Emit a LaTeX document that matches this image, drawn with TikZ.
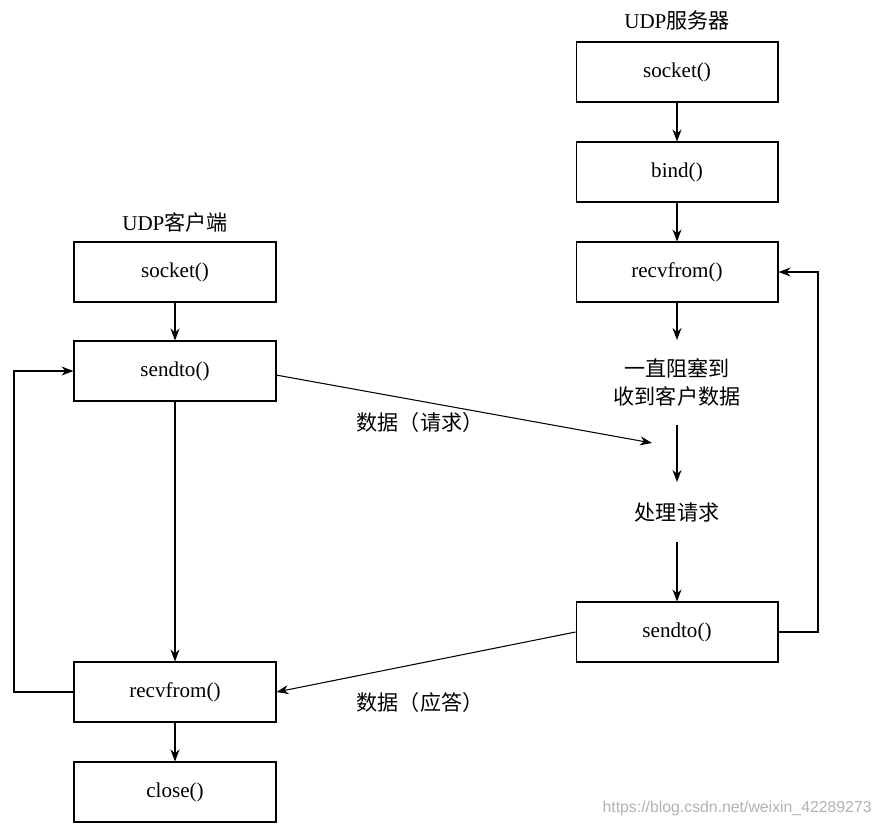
\documentclass[tikz,border=0pt]{standalone}
\usepackage{fontspec}
\setmainfont{Liberation Serif}
\newfontfamily\cjk{Noto Sans CJK SC}
\newfontfamily\wmfont{Liberation Sans}
\usetikzlibrary{arrows.meta}
\begin{document}
\begin{tikzpicture}[x=0.02cm, y=-0.02cm, >={Stealth[length=2.4mm,width=1.8mm]},
    box/.style={draw, semithick, minimum width=4.04cm, minimum height=1.2cm, font=\large},
    txt/.style={font=\large\cjk, align=center},
    every path/.append style={semithick}]
  \useasboundingbox (0,0) rectangle (882,826);

  % server side
  \node[font=\large] (st) at (677,20) {UDP{\cjk 服务器}};
  \node[box] (ssock) at (677,72) {socket()};
  \node[box] (sbind) at (677,172) {bind()};
  \node[box] (srecv) at (677,272) {recvfrom()};
  \node[txt, inner sep=0, text depth=0pt] (wait) at (677,382) {一直阻塞到\\[2pt]收到客户数据};
  \node[txt] (proc) at (677,512) {处理请求};
  \node[box] (ssend) at (677,632) {sendto()};

  % client side
  \node[font=\large] (ct) at (175,222) {UDP{\cjk 客户端}};
  \node[box] (csock) at (175,272) {socket()};
  \node[box] (csend) at (175,371) {sendto()};
  \node[box] (crecv) at (175,692) {recvfrom()};
  \node[box] (cclose) at (175,792) {close()};

  \coordinate (rq) at (652,443);
  \coordinate (w1) at (677,425);
  \coordinate (w2) at (677,482);
  \coordinate (p1) at (677,542);

  \draw[->] (ssock) -- (sbind);
  \draw[->] (sbind) -- (srecv);
  \draw[->] (srecv) -- (677,340);
  \draw[->] (w1) -- (w2);
  \draw[->] (p1) -- (ssend);
  \draw[->] (ssend.east) -- (818,632) |- (srecv.east);

  \draw[->] (csock) -- (csend);
  \draw[->] (csend) -- (crecv);
  \draw[->] (crecv) -- (cclose);
  \draw[->] (crecv.west) -- (14,692) |- (csend.west);

  \draw[->] (276,375) -- (rq);
  \draw[->] (ssend.west) -- (crecv.east);
  \node[txt] (req) at (420,422) {数据（请求）};
  \node[txt] (resp) at (420,702) {数据（应答）};

  \node[font=\small\wmfont, text=gray!60, anchor=east] (wm) at (878,808) {https://blog.csdn.net/weixin\_42289273};
\end{tikzpicture}
\end{document}
